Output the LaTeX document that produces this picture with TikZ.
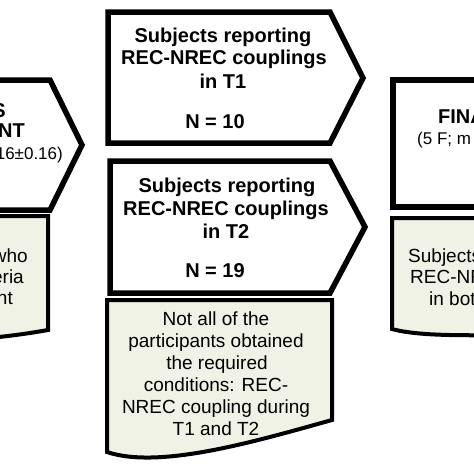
\documentclass[tikz,border=0pt]{standalone}
\usepackage{fontspec}
\setmainfont{Liberation Sans}
\definecolor{docfill}{RGB}{241,242,230}
\begin{document}
\begin{tikzpicture}[x=1pt,y=-1pt,
  arrowbox/.style={draw=black,line width=5.5pt,fill=white,line join=miter},
  docbox/.style={draw=black,line width=4pt,fill=docfill,line join=miter},
  boldtxt/.style={font=\fontsize{20}{23}\selectfont\bfseries,inner sep=0pt},
  doctxt/.style={font=\fontsize{19}{22}\selectfont,inner sep=0pt},
  smalltxt/.style={font=\fontsize{17}{20}\selectfont,inner sep=0pt}]
\useasboundingbox[fill=white] (0,0) rectangle (474,474);

% left column
\draw[arrowbox] (-20,80) -- (50,80) -- (82,145) -- (50,210) -- (-20,210) -- cycle;
\draw[docbox] (-30,216) -- (48,216) -- (48,330) .. controls (20,335) and (0,337) .. (-30,340) -- cycle;
\node[boldtxt,anchor=base east] (l1) at (6,117) {S};
\node[boldtxt,anchor=base east] (l2) at (25,137) {NT};
\node[smalltxt,anchor=base east] (l3) at (63,159) {16±0.16)};
\node[doctxt,anchor=base east] (l4) at (28,262) {who};
\node[doctxt,anchor=base east] (l5) at (24,283) {eria};
\node[doctxt,anchor=base east] (l6) at (13,304) {nt};

% middle column
\draw[arrowbox] (108,12) -- (330,12) -- (363,78) -- (330,143) -- (108,143) -- cycle;
\draw[arrowbox] (110,161) -- (330,161) -- (365,227) -- (330,293) -- (110,293) -- cycle;
\draw[docbox] (107,300) -- (332,300) -- (332,420) .. controls (260,440) and (160,470) .. (107,452) -- cycle;

\node[boldtxt,anchor=base] (a1) at (223,42) {Subjects reporting};
\node[boldtxt,anchor=base] (a2) at (224,64) {REC-NREC couplings};
\node[boldtxt,anchor=base] (a3) at (223,88) {in T1};
\node[boldtxt,anchor=base] (a4) at (215,128) {N = 10};

\node[boldtxt,anchor=base] (b1) at (227,192) {Subjects reporting};
\node[boldtxt,anchor=base] (b2) at (226,215) {REC-NREC couplings};
\node[boldtxt,anchor=base] (b3) at (226,238) {in T2};
\node[boldtxt,anchor=base] (b4) at (215,277) {N = 19};

\node[doctxt,anchor=base] (c1) at (216,325) {Not all of the};
\node[doctxt,anchor=base] (c2) at (216,347) {participants obtained};
\node[doctxt,anchor=base] (c3) at (217,369) {the required};
\node[doctxt,anchor=base] (c4) at (216,391) {conditions: REC-};
\node[doctxt,anchor=base] (c5) at (216,413) {NREC coupling during};
\node[doctxt,anchor=base] (c6) at (216,435) {T1 and T2};

% right column
\draw[arrowbox] (500,80) -- (393,80) -- (393,207) -- (500,207);
\draw[docbox] (392,218) -- (500,218) -- (500,335) .. controls (440,336) and (410,334) .. (392,329) -- cycle;
\node[boldtxt,anchor=base west] (r1) at (438,123) {FINA};
\node[smalltxt,anchor=base west] (r2) at (417,144) {(5 F; m};
\node[doctxt,anchor=base west] (r3) at (408,262) {Subjects};
\node[doctxt,anchor=base west] (r4) at (410,283) {REC-NR};
\node[doctxt,anchor=base west] (r5) at (429,305) {in bot};
\end{tikzpicture}
\end{document}
